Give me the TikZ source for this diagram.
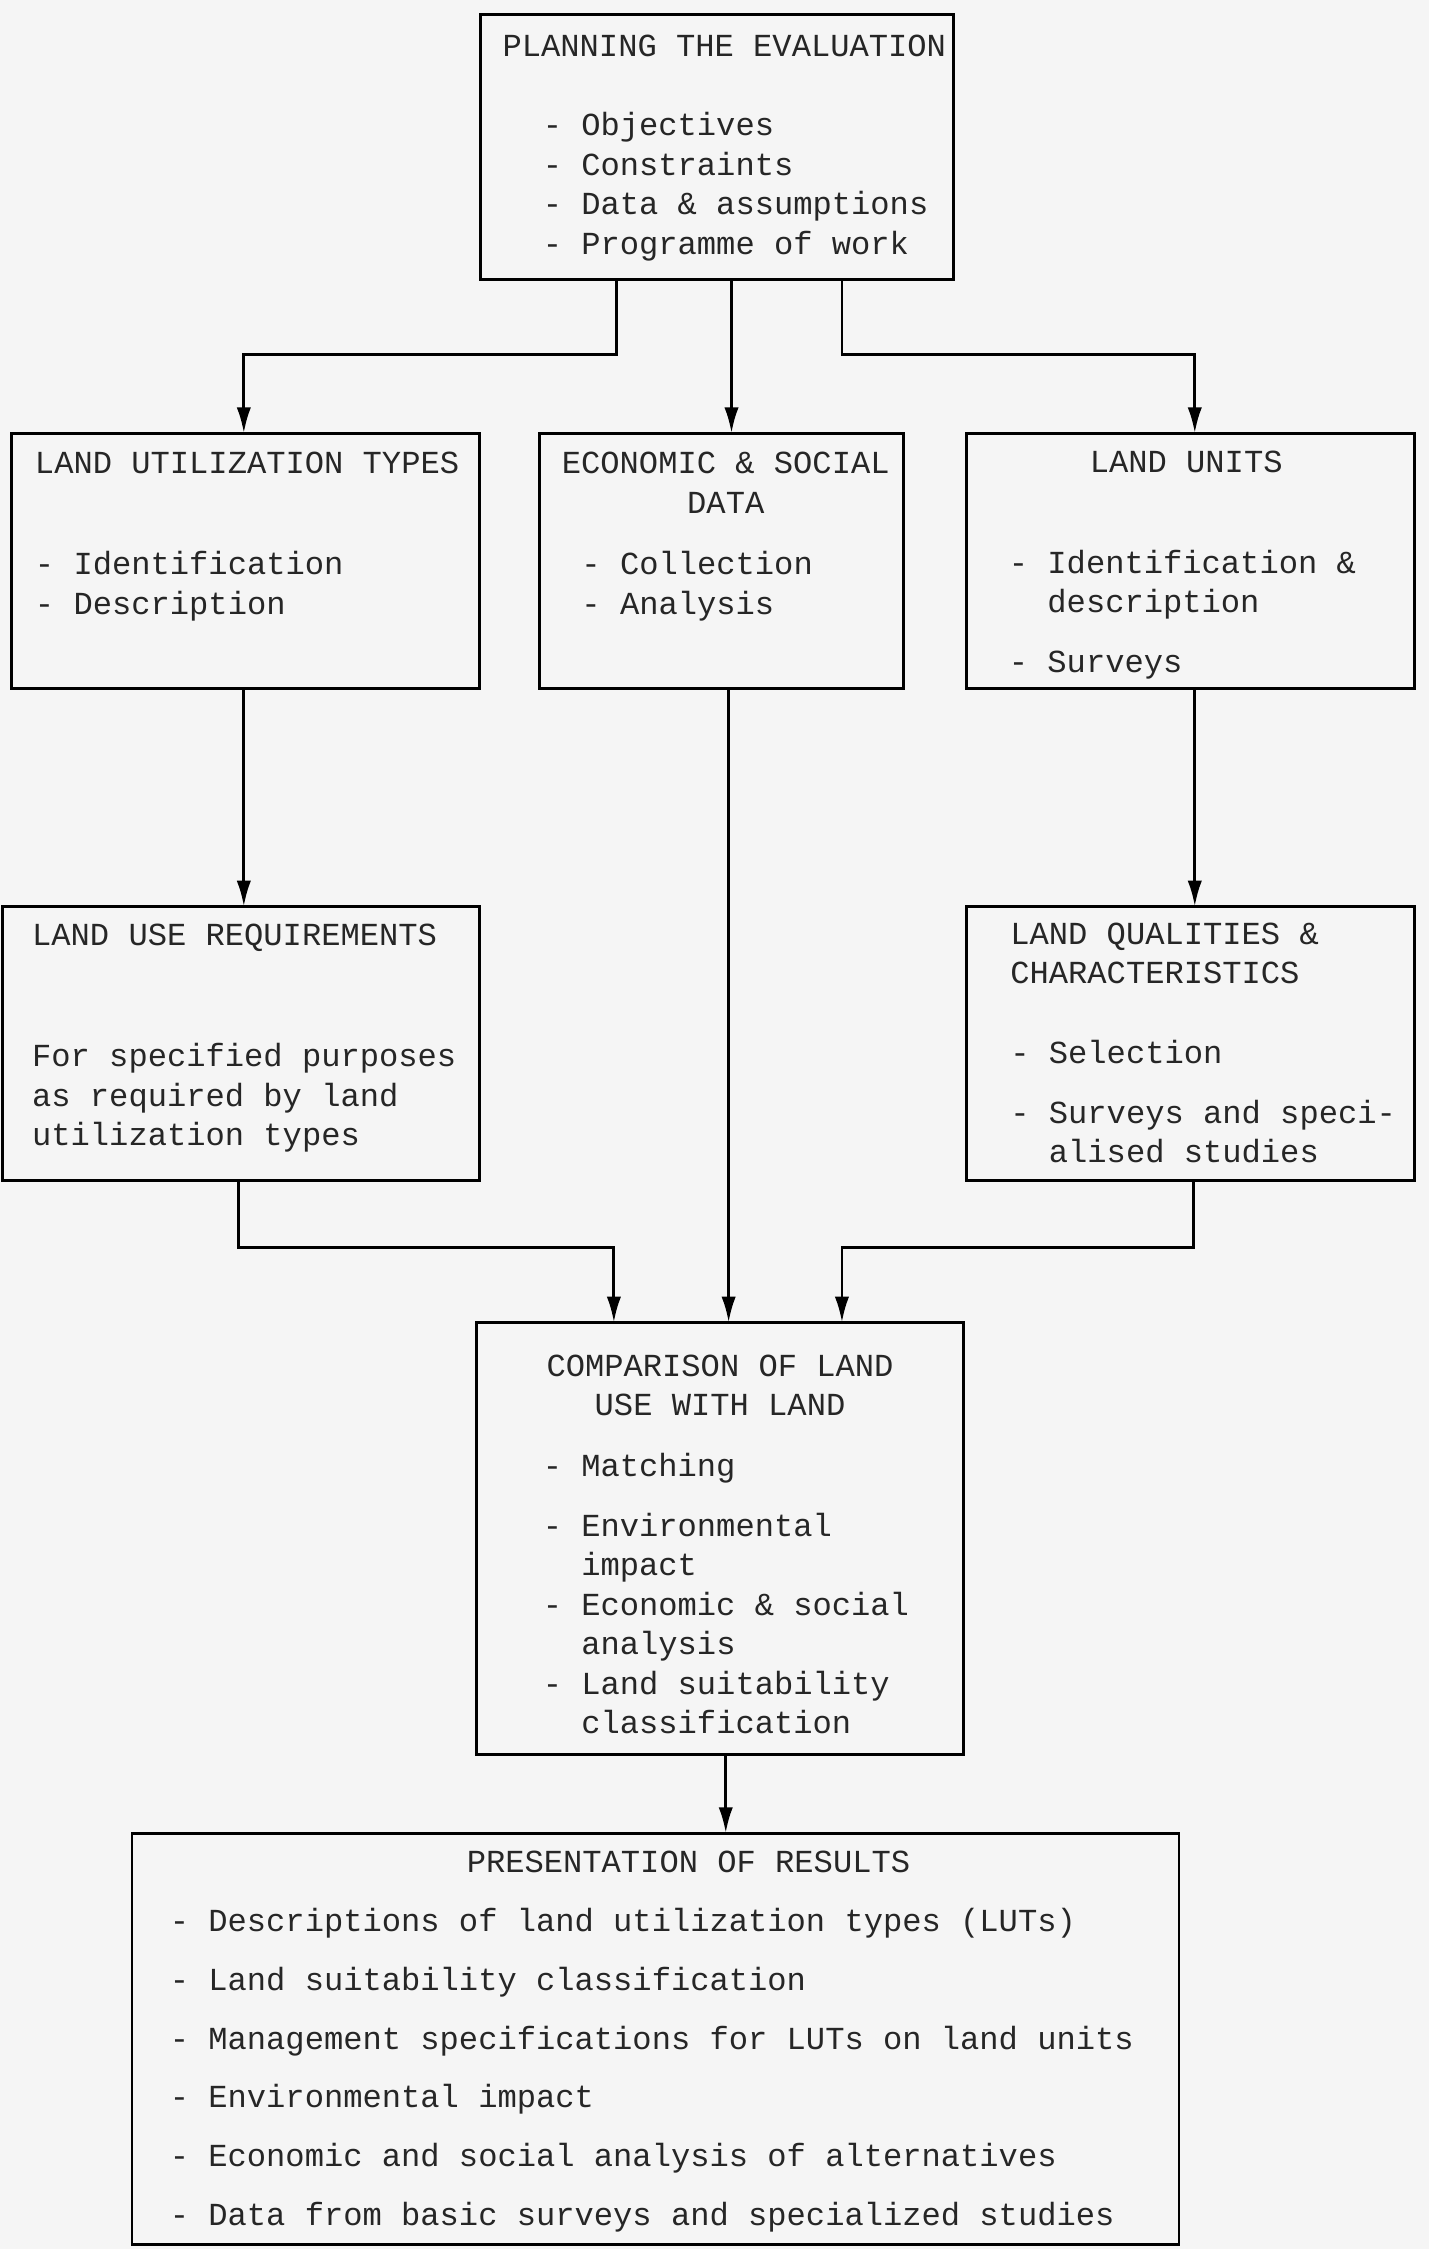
\documentclass[tikz,border=0pt]{standalone}
\usepackage{fontspec}
\setmonofont{Liberation Mono}
\usetikzlibrary{arrows.meta}
\begin{document}
\begin{tikzpicture}[x=0.5pt,y=-0.5pt,
  box/.style={draw,line width=1pt},
  txt/.style={anchor=north west,inner sep=0pt,align=left,font=\fontsize{11.2}{13.75}\ttfamily,text=black!85},
  ctxt/.style={anchor=north,inner sep=0pt,align=center,font=\fontsize{11.2}{13.75}\ttfamily,text=black!85},
  arr/.style={line width=1pt,-{Latex[length=9pt,width=5pt]}}]
\fill[black!4] (0,0) rectangle (996,1568);
\useasboundingbox (0,0) rectangle (996,1568);
% boxes
\draw[box] (335,10) rectangle (665,195); \coordinate (plan) at (500,195);
\draw[box] (8,302) rectangle (334,480);
\draw[box] (376,302) rectangle (630,480);
\draw[box] (674,302) rectangle (986,480);
\draw[box] (2,632) rectangle (334,823);
\draw[box] (674,632) rectangle (986,823);
\draw[box] (332,922) rectangle (672,1223);
\draw[box] (92,1278) rectangle (822,1565);
% texts
\node[ctxt] (t1) at (505,24) {PLANNING THE EVALUATION};
\node[txt] (t2) at (378,78) {- Objectives\\- Constraints\\- Data \& assumptions\\- Programme of work};
\node[txt] (t3) at (24,315) {LAND UTILIZATION TYPES};
\node[txt] (t4) at (24,384) {- Identification\\- Description};
\node[ctxt] (t5) at (506,315) {ECONOMIC \& SOCIAL\\DATA};
\node[txt] (t6) at (405,384) {- Collection\\- Analysis};
\node[ctxt] (t7) at (827,314) {LAND UNITS};
\node[txt] (t8) at (703,383) {- Identification \&\\\phantom{- }description\\[7pt]- Surveys};
\node[txt] (t9) at (22,644) {LAND USE REQUIREMENTS};
\node[txt] (t10) at (22,727) {For specified purposes\\as required by land\\utilization types};
\node[txt] (t11) at (704,643) {LAND QUALITIES \&\\CHARACTERISTICS};
\node[txt] (t12) at (704,725) {- Selection\\[7pt]- Surveys and speci-\\\phantom{- }alised studies};
\node[ctxt] (t13) at (502,944) {COMPARISON OF LAND\\USE WITH LAND};
\node[txt] (t14) at (378,1013) {- Matching\\[7pt]- Environmental\\\phantom{- }impact\\- Economic \& social\\\phantom{- }analysis\\- Land suitability\\\phantom{- }classification};
\node[ctxt] (t15) at (480,1290) {PRESENTATION OF RESULTS};
\node[txt,font=\fontsize{11.2}{20.5}\ttfamily] (t16) at (118,1330) {- Descriptions of land utilization types (LUTs)\\- Land suitability classification\\- Management specifications for LUTs on land units\\- Environmental impact\\- Economic and social analysis of alternatives\\- Data from basic surveys and specialized studies};
% connectors
\coordinate (a1) at (430,195); \coordinate (b1) at (170,302);
\draw[arr] (a1) |- (300,247) -| (b1);
\coordinate (a2) at (510,195); \coordinate (b2) at (510,302);
\draw[arr] (a2) -- (b2);
\coordinate (a3) at (587,195); \coordinate (b3) at (833,302);
\draw[arr] (a3) |- (700,247) -| (b3);
\coordinate (a4) at (170,480); \coordinate (b4) at (170,632);
\draw[arr] (a4) -- (b4);
\coordinate (a5) at (833,480); \coordinate (b5) at (833,632);
\draw[arr] (a5) -- (b5);
\coordinate (a6) at (508,480); \coordinate (b6) at (508,922);
\draw[arr] (a6) -- (b6);
\coordinate (a7) at (166,823); \coordinate (b7) at (428,922);
\draw[arr] (a7) |- (300,870) -| (b7);
\coordinate (a8) at (832,823); \coordinate (b8) at (587,922);
\draw[arr] (a8) |- (700,870) -| (b8);
\coordinate (a9) at (506,1223); \coordinate (b9) at (506,1278);
\draw[arr] (a9) -- (b9);
\end{tikzpicture}
\end{document}
